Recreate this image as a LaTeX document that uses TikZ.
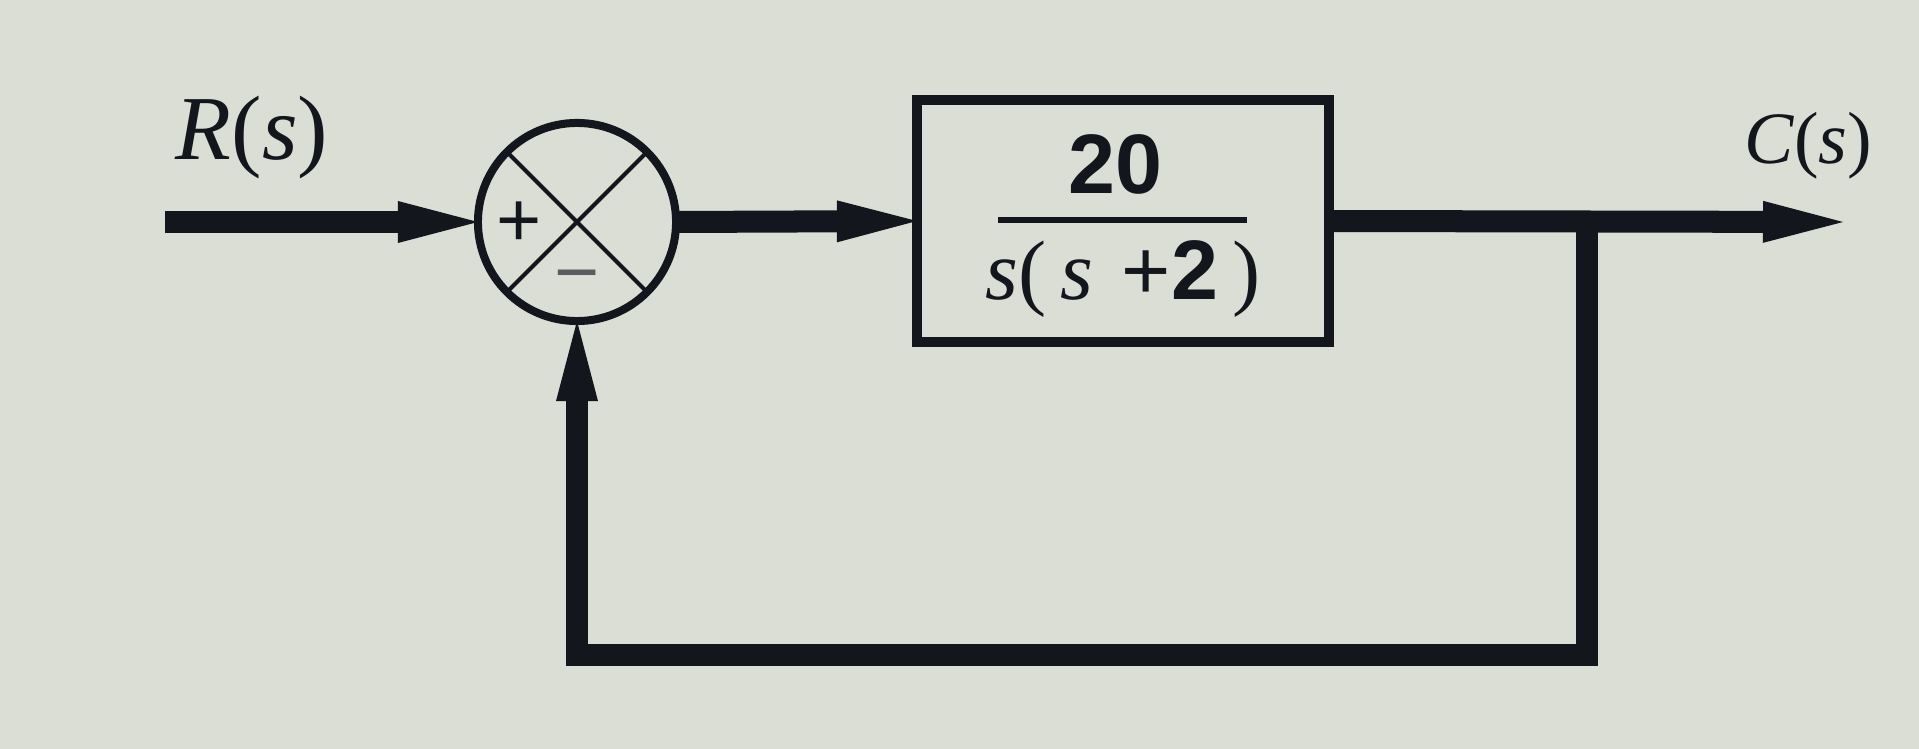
\documentclass[tikz,border=0pt]{standalone}
\usepackage{fontspec}
\setmainfont{Liberation Serif}
\setsansfont{Liberation Sans}
\usetikzlibrary{arrows.meta,calc}
\definecolor{bg}{RGB}{218,222,212}
\definecolor{ink}{RGB}{20,22,30}
\tikzset{
  sig/.style={draw=ink, line width=0.22cm, line join=miter},
  arr/.style={-{Triangle[length=0.8cm,width=0.42cm,line width=0pt]}},
  lbl/.style={text=ink, inner sep=0pt, font=\fontsize{24}{24}\selectfont},
  sumnode/.style={circle, draw=ink, line width=0.08cm, minimum size=1.98cm, inner sep=0pt, outer sep=0pt},
  blocknode/.style={rectangle, draw=ink, line width=0.1cm, minimum width=4.12cm, minimum height=2.42cm, inner sep=0pt, outer sep=0pt},
  signnode/.style={text=ink, inner sep=0pt, font=\sffamily\fontsize{22}{22}\selectfont}
}
\begin{document}
\begin{tikzpicture}[x=0.01cm, y=-0.01cm]
\fill[bg] (0,0) rectangle (1919,749);
\useasboundingbox (0,0) rectangle (1919,749);

% blocks
\node[sumnode] (sum) at (577,222) {};
\draw[ink, line width=0.04cm] (sum.north west) -- (sum.south east);
\draw[ink, line width=0.04cm] (sum.north east) -- (sum.south west);
\node[signnode] (plus) at ($(sum.center)+(-58,2)$) {+};
\node[signnode, text=ink!70] (minus) at ($(sum.center)+(0,62)$) {−};

\node[blocknode] (blk) at (1123,221) {};
\node[lbl, font=\sffamily\bfseries\fontsize{24}{24}\selectfont] (num) at (1115,164) {20};
\draw[ink, line width=0.06cm] (998,220) -- (1247,220);
\node[lbl] (den) at (1123,279) {\textit{s}(\,\textit{s}\,\,{\sffamily +\bfseries 2}\,)};

% labels
\node[lbl, font=\fontsize{26}{26}\selectfont] (rlab) at (252,138) {\textit{R}(\textit{s})};
\node[lbl, font=\fontsize{21}{21}\selectfont] (clab) at (1808,146) {\textit{C}(\textit{s})};

% connectors
\coordinate (in) at (165,222);
\coordinate (out) at (1843,222);
\coordinate (br) at (1587,222);
\coordinate (fb) at (1587,655);

\draw[sig, arr] (in) -- (sum.west);
\draw[sig, arr] (sum.east) -- (blk.west);
\draw[sig, arr] (blk.east) -- (out);
\draw[sig, arr] (br) -- (fb) -| (sum.south);
\end{tikzpicture}
\end{document}
